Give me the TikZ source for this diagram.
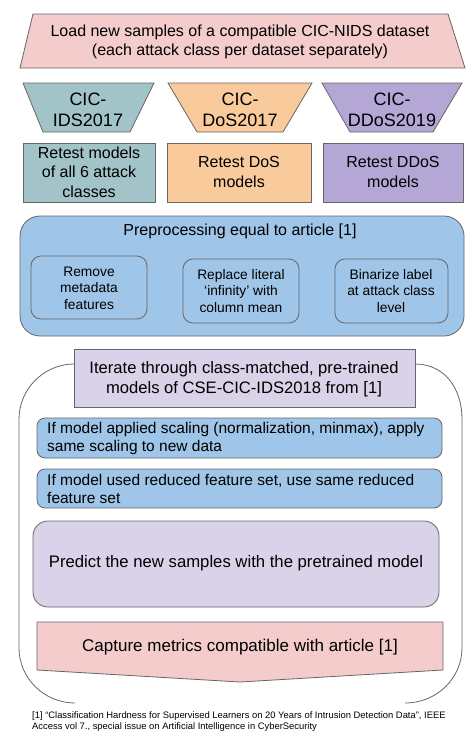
\documentclass[tikz,border=0pt]{standalone}
\usepackage{fontspec}
\setmainfont{Liberation Sans}
\definecolor{cpink}{HTML}{F4CCCC}
\definecolor{cteal}{HTML}{A2C4C9}
\definecolor{corange}{HTML}{F9CB9C}
\definecolor{cpurple}{HTML}{B4A7D6}
\definecolor{cblue}{HTML}{9FC5E8}
\definecolor{clav}{HTML}{D9D2E9}
\definecolor{cline}{HTML}{666666}
\begin{document}
\begin{tikzpicture}[x=1pt,y=-1pt,
  shp/.style={draw=cline,line width=0.8pt},
  txt/.style={align=center,inner sep=0pt,font=\fontsize{16}{19.5}\selectfont},
  dtxt/.style={align=center,inner sep=0pt,font=\fontsize{18}{20.5}\selectfont},
  stxt/.style={align=center,inner sep=0pt,font=\fontsize{13.8}{16.5}\selectfont},
  ltxt/.style={align=left,anchor=west,inner sep=0pt,font=\fontsize{15.5}{18}\selectfont},
  ftxt/.style={align=left,anchor=north west,inner sep=0pt,font=\fontsize{9.4}{11.5}\selectfont}]
\useasboundingbox[fill=white] (0,0) rectangle (474,742);
% top trapezoid
\path[shp,fill=cpink] (33,14) -- (448,14) -- (465,68) -- (20,68) -- cycle;
\node[txt] (load) at (240,42) {Load new samples of a compatible CIC-NIDS dataset\\(each attack class per dataset separately)};
% dataset trapezoids
\path[shp,fill=cteal] (23,83) -- (154,83) -- (130,132) -- (43,132) -- cycle;
\node[dtxt] (ids) at (88,110) {CIC-\\IDS2017};
\path[shp,fill=corange] (168,83) -- (312,83) -- (283,132) -- (197,132) -- cycle;
\node[dtxt] (dos) at (240,110) {CIC-\\DoS2017};
\path[shp,fill=cpurple] (322,83) -- (462,83) -- (433,132) -- (350,132) -- cycle;
\node[dtxt] (ddos) at (392,110) {CIC-\\DDoS2019};
% retest boxes
\path[shp,fill=cteal] (23,143) rectangle (155,202);
\node[txt] (rt1) at (89,172) {Retest models\\of all 6 attack\\classes};
\path[shp,fill=corange] (167,143) rectangle (311,202);
\node[txt] (rt2) at (239,172) {Retest DoS\\models};
\path[shp,fill=cpurple] (323,143) rectangle (463,202);
\node[txt] (rt3) at (393,172) {Retest DDoS\\models};
% preprocessing
\path[shp,fill=cblue,rounded corners=20pt] (20,216) rectangle (464,336);
\node[txt] (pre) at (240,231) {Preprocessing equal to article [1]};
\path[shp,fill=cblue,rounded corners=10pt] (31,256) rectangle (147,319);
\node[stxt] (rm) at (89,288) {Remove\\metadata\\features};
\path[shp,fill=cblue,rounded corners=10pt] (183,259) rectangle (299,323);
\node[stxt] (rep) at (241,291) {Replace literal\\‘infinity’ with\\column mean};
\path[shp,fill=cblue,rounded corners=10pt] (335,259) rectangle (448,323);
\node[stxt] (bin) at (391,291) {Binarize label\\at attack class\\level};
% container brackets
\draw[cline,line width=0.8pt] (74,364) .. controls (44,364) and (19,389) .. (19,419) -- (19,648) .. controls (19,678) and (44,703) .. (75,703);
\draw[cline,line width=0.8pt] (415,364) .. controls (445,364) and (462,389) .. (462,419) -- (462,648) .. controls (462,678) and (437,703) .. (405,703);
% iterate
\path[shp,fill=clav] (74,349) rectangle (415,407);
\node[txt,font=\fontsize{16.6}{20}\selectfont] (it) at (244,379) {Iterate through class-matched, pre-trained\\models of CSE-CIC-IDS2018 from [1]};
\path[shp,fill=cblue,rounded corners=8pt] (37,418) rectangle (442,458);
\node[ltxt] (sc) at (47,438) {If model applied scaling (normalization, minmax), apply\\same scaling to new data};
\path[shp,fill=cblue,rounded corners=8pt] (37,469) rectangle (442,508);
\node[ltxt] (fs) at (47,489) {If model used reduced feature set, use same reduced\\feature set};
\path[shp,fill=clav,rounded corners=15pt] (33,521) rectangle (439,607);
\node[txt,font=\fontsize{16.7}{20}\selectfont] (pr) at (236,563) {Predict the new samples with the pretrained model};
\path[shp,fill=cpink] (37,622) -- (443,622) -- (443,670) -- (240,682) -- (37,670) -- cycle;
\node[txt,font=\fontsize{17}{20}\selectfont] (cap) at (240,647) {Capture metrics compatible with article [1]};
\node[ftxt] (fn) at (32,711) {[1] “Classification Hardness for Supervised Learners on 20 Years of Intrusion Detection Data”, IEEE\\Access vol 7., special issue on Artificial Intelligence in CyberSecurity};
\end{tikzpicture}
\end{document}
